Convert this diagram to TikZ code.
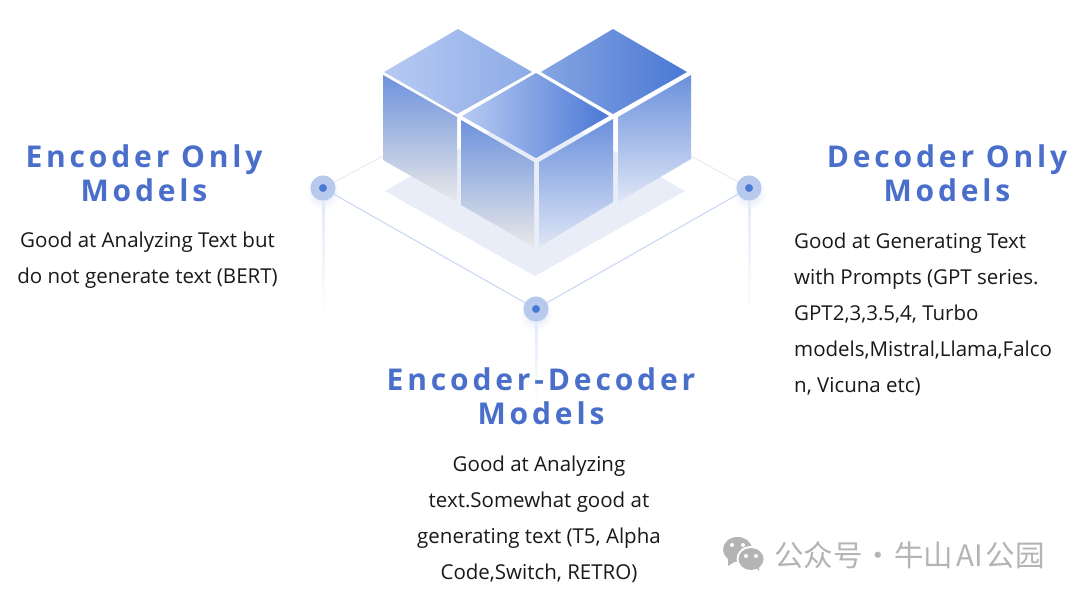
\documentclass[tikz,border=0pt]{standalone}
\usepackage{fontspec}
\setmainfont{Open Sans}
\newfontfamily\headfont[LetterSpace=12.8]{Open Sans}
\newfontfamily\cnfont{Noto Sans CJK SC}
\definecolor{headblue}{HTML}{4A6FCB}
\definecolor{deepblue}{HTML}{4A78D5}
\definecolor{ringblue}{HTML}{B7C9EC}
\definecolor{lineblue}{HTML}{CBD8F3}
\definecolor{plateblue}{HTML}{E8EDF8}
\definecolor{stemblue}{HTML}{E3EAF8}
\definecolor{markgray}{HTML}{B4B4B4}
\definecolor{palefaceL}{HTML}{B8CAF3}
\definecolor{palefaceR}{HTML}{8CABE6}
\tikzset{
    heading/.style={font=\headfont\fontsize{30}{34.5}\selectfont\bfseries, text=headblue, align=center, inner sep=0pt},
    bodytext/.style={font=\fontsize{20.5}{36}\selectfont, text=black!90, inner sep=0pt},
    hub/.style={circle, fill=deepblue, draw=ringblue, line width=8.5pt, minimum size=16.5pt, inner sep=0pt},
    hubglow/.style={inner color=ringblue!55, outer color=white},
    stemline/.style={top color=stemblue, bottom color=white},
    link/.style={draw=lineblue, line width=1.1pt},
    faintlink/.style={draw=plateblue, line width=1.1pt},
    leftface/.style={shading angle=-30, top color=deepblue!68!ringblue, bottom color=black!9},
    rightface/.style={shading angle=30, top color=deepblue!70!ringblue, bottom color=plateblue!80!ringblue},
}
\begin{document}
\begin{tikzpicture}[x=1pt, y=-1pt]
    \useasboundingbox (0,0) rectangle (1080,598);
    \fill[white] (0,0) rectangle (1080,598);

    % floor
    \fill[plateblue] (385,191) -- (535,106) -- (685,191) -- (535,276) -- cycle;

    % hubs
    \shade[hubglow] (323,193) circle (17);
    \shade[hubglow] (749,193) circle (17);
    \shade[hubglow] (536,314) circle (17);
    \node[hub] (leftHub) at (323,188) {};
    \node[hub] (rightHub) at (749,188) {};
    \node[hub] (midHub) at (536,309) {};

    \coordinate (leftBack) at (383,156);
    \coordinate (rightBack) at (691,156);
    \draw[link] (leftHub) -- (midHub);
    \draw[link] (rightHub) -- (midHub);
    \draw[faintlink] (leftHub) -- (leftBack);
    \draw[faintlink] (rightHub) -- (rightBack);

    % stems
    \shade[stemline] (322,201) rectangle (324.5,316);
    \shade[stemline] (748,201) rectangle (750.5,316);
    \shade[stemline] (535,322) rectangle (537.5,405);

    % top faces
    \shade[left color=palefaceL, right color=palefaceR]
        (384,72) -- (458,29) -- (532,72) -- (457,114) -- cycle;
    \shade[left color=palefaceL, right color=deepblue]
        (462,116) -- (536,73) -- (609,116) -- (536,158) -- cycle;
    \shade[left color=deepblue!45!ringblue, middle color=deepblue, right color=deepblue]
        (541,72) -- (613,29) -- (687,72) -- (613,114) -- cycle;

    % side faces
    \shade[leftface] (383,75) -- (457,117) -- (457,202) -- (383,160) -- cycle;
    \shade[leftface] (461,120) -- (534,162) -- (534,247) -- (461,205) -- cycle;
    \shade[rightface] (539,162) -- (613,119) -- (613,202) -- (539,247) -- cycle;
    \shade[rightface] (618,117) -- (691,75) -- (691,159) -- (618,202) -- cycle;

    % left column
    \node[heading] (leftTitle) at (144,173) {Encoder Only\\Models};
    \node[bodytext, align=center] (leftText) at (147.5,260) {Good at Analyzing Text but\\do not generate text (BERT)};

    % right column
    \node[heading] (rightTitle) at (947,173) {Decoder Only\\Models};
    \node[bodytext, align=left, anchor=west] (rightText) at (794,314)
        {Good at Generating Text\\with Prompts (GPT series.\\GPT2,3,3.5,4, Turbo\\models,Mistral,Llama,Falco\\n, Vicuna etc)};

    % middle column
    \node[heading] (midTitle) at (541,396) {Encoder-Decoder\\Models};
    \node[bodytext, align=center] (midText) at (539,519)
        {Good at Analyzing\\text.Somewhat good at\\generating text (T5, Alpha\\Code,Switch, RETRO)};

    % watermark
    \fill[markgray] (737.5,549.5) ellipse (14.5 and 12.5);
    \fill[markgray] (728,558) -- (728,566) -- (736,561) -- cycle;
    \fill[white] (751,559) ellipse (14.5 and 13);
    \fill[markgray] (751,559) ellipse (12.5 and 11);
    \fill[markgray] (756,567) -- (759,571) -- (759,564) -- cycle;
    \foreach \cx/\cy in {732/545, 743/545, 746/556, 756/556}
        \fill[white] (\cx,\cy) circle (2);
    \node[font=\cnfont\fontsize{29.5}{32}\selectfont, text=markgray, anchor=west, inner sep=0pt] (markText) at (774,555) {公众号\hspace{1pt}·\hspace{1pt}牛山\hspace{3pt}AI\hspace{3pt}公园};
\end{tikzpicture}
\end{document}
